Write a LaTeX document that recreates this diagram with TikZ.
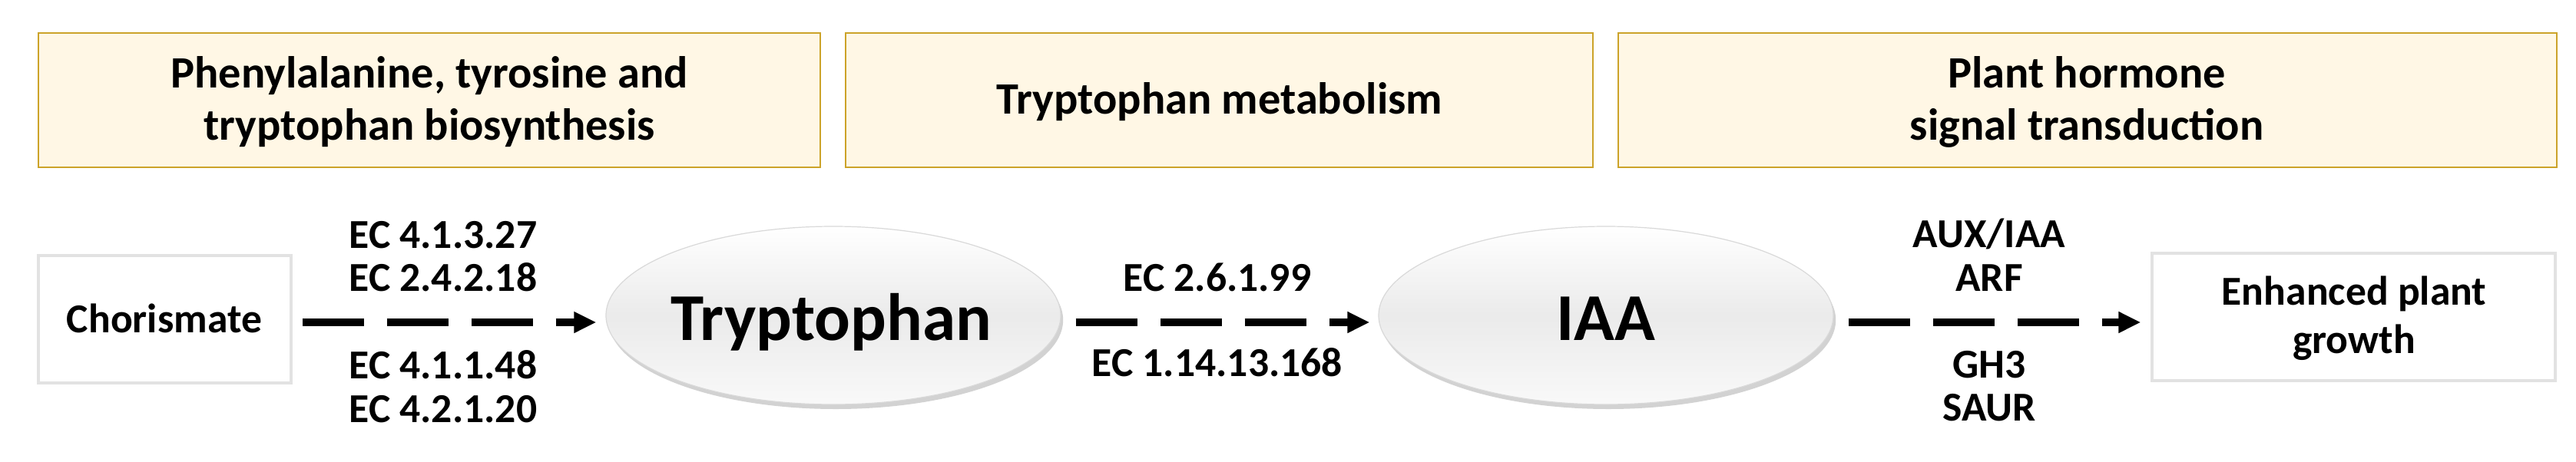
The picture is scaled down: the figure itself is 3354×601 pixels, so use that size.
\documentclass[tikz,border=0pt]{standalone}
\usepackage{fontspec}
\setmainfont{Carlito}
\usetikzlibrary{arrows.meta,shapes.geometric,shadows}
\definecolor{hdrfill}{RGB}{255,247,229}
\definecolor{hdrdraw}{RGB}{204,163,41}
\definecolor{boxdraw}{RGB}{226,226,226}
\begin{document}
\begin{tikzpicture}[x=0.25pt,y=-0.25pt,
 hdr/.style={draw=hdrdraw, fill=hdrfill, line width=0.7pt, inner sep=0pt, minimum height=43.75pt},
 plain/.style={draw=boxdraw, fill=white, line width=0.8pt, inner sep=0pt, minimum height=41.5pt},
 htext/.style={font=\bfseries\fontsize{14.6}{17}\selectfont, anchor=base, inner sep=0pt},
 ltext/.style={font=\bfseries\fontsize{13.4}{16}\selectfont, anchor=base, inner sep=0pt},
 big/.style={ellipse, draw=gray!30, line width=0.3pt, minimum width=148pt, minimum height=58pt, inner sep=0pt,
   top color=white, bottom color=gray!5, middle color=gray!16,
   drop shadow={shadow xshift=0.8pt, shadow yshift=-1.5pt, opacity=0.35}},
 bigtext/.style={font=\bfseries\fontsize{21.8}{26}\selectfont, anchor=base, inner sep=0pt},
 flow/.style={line width=2.6pt, dash pattern=on 20pt off 7.5pt, -{Triangle[length=7.25pt,width=6.5pt]}}
]
\fill[white] (0,0) rectangle (3354,601);
\useasboundingbox (0,0) rectangle (3354,601);

% header boxes
\node[hdr, minimum width=254.5pt] (h1) at (559,130.5) {};
\node[hdr, minimum width=243.25pt] (h2) at (1587.5,130.5) {};
\node[hdr, minimum width=305.5pt] (h3) at (2718,130.5) {};
\node[htext] (h1a) at (559,114) {Phenylalanine, tyrosine and};
\node[htext] (h1b) at (559,182) {tryptophan biosynthesis};
\node[htext] (h2a) at (1588,148) {Tryptophan metabolism};
\node[htext] (h3a) at (2717,114) {Plant hormone};
\node[htext] (h3b) at (2717,182) {signal transduction};

% pathway nodes
\node[plain, minimum width=82.25pt] (chor) at (214.5,416) {};
\node[ltext] (chort) at (214,433) {Chorismate};
\node[big] (trp) at (1085,411) {};
\node[bigtext] (trpt) at (1082,443) {Tryptophan};
\node[big] (iaa) at (2091,411) {};
\node[bigtext] (iaat) at (2091,443) {IAA};
\node[plain, minimum width=131.25pt] (enh) at (3064.5,413) {};
\node[ltext] (enha) at (3065,397) {Enhanced plant};
\node[ltext] (enhb) at (3065,460) {growth};

% connectors
\coordinate (row) at (0,420);
\draw[flow, shorten <=3.25pt, shorten >=3pt] (chor.east |- row) -- (trp.west |- row);
\draw[flow, shorten <=4.75pt, shorten >=2.75pt] (trp.east |- row) -- (iaa.west |- row);
\draw[flow, shorten <=4.75pt, shorten >=3.25pt] (iaa.east |- row) -- (enh.west |- row);

% enzyme labels
\node[ltext] (e1) at (577,323) {EC 4.1.3.27};
\node[ltext] (e2) at (577,379) {EC 2.4.2.18};
\node[ltext] (e3) at (577,493) {EC 4.1.1.48};
\node[ltext] (e4) at (577,550) {EC 4.2.1.20};
\node[ltext] (e5) at (1585,379) {EC 2.6.1.99};
\node[ltext] (e6) at (1585,490) {EC 1.14.13.168};
\node[ltext] (g1) at (2590,322) {AUX/IAA};
\node[ltext] (g2) at (2590,379) {ARF};
\node[ltext] (g3) at (2590,492) {GH3};
\node[ltext] (g4) at (2590,548) {SAUR};
\end{tikzpicture}
\end{document}
